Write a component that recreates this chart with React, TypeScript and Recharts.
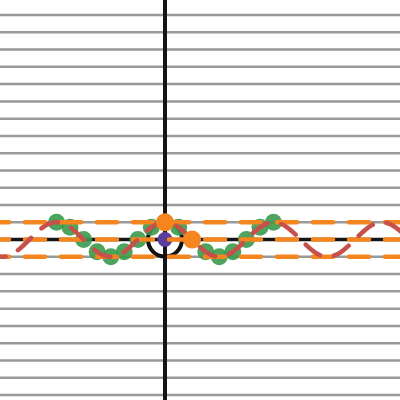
import React from 'react';
import { ComposedChart, XAxis, YAxis, Line, Scatter, ReferenceLine, ReferenceDot } from 'recharts';

// Domain (units): equal aspect, origin near (165, 239.5)
const xDomain = [-9.554, 13.607];
const yDomain = [-9.29, 13.87];

// Horizontal grid values
const gridValues = [-9, -8, -7, -6, -5, -4, -3, -2, -1, 1, 2, 3, 4, 5, 6, 7, 8, 9, 10, 11, 12, 13];

// Orange dashed horizontal guides
const guideValues = [1, 0, -1];

// Red dashed curve samples
const curveX = [-10.21, -9.42, -8.64, -7.85, -7.07, -6.28, -5.5, -4.71, -3.93, -3.14, -2.36, -1.57, -0.79, 0, 0.79, 1.57, 2.36, 3.14, 3.93, 4.71, 5.5, 6.28, 7.07, 7.85, 8.64, 9.42, 10.21, 11.0, 11.78, 12.57, 13.35, 14.14];
const curveY = [-0.71, -1, -0.71, 0, 0.71, 1, 0.71, 0, -0.71, -1, -0.71, 0, 0.71, 1, 0.71, 0, -0.71, -1, -0.71, 0, 0.71, 1, 0.71, 0, -0.71, -1, -0.71, 0, 0.71, 1, 0.71, 0];

// Green sample points
const greenX = [-6.28, -5.5, -4.71, -3.93, -3.14, -2.36, -1.57, -0.79, 0, 0.79, 1.57, 2.36, 3.14, 3.93, 4.71, 5.5, 6.28];
const greenY = [1, 0.71, 0, -0.71, -1, -0.71, 0, 0.71, 1, 0.71, 0, -0.71, -1, -0.71, 0, 0.71, 1];

// Highlighted points
const orangeX = [0, 1.57];
const orangeY = [1, 0];
const purpleX = [0];
const purpleY = [0];

const curveData = curveX.map((x, i) => ({ x, y: curveY[i] }));
const greenData = greenX.map((x, i) => ({ x, y: greenY[i] }));
const orangeData = orangeX.map((x, i) => ({ x, y: orangeY[i] }));
const purpleData = purpleX.map((x, i) => ({ x, y: purpleY[i] }));

const dot = (r: number, fill: string, opacity = 1) => (props: any) => (
  <circle cx={props.cx} cy={props.cy} r={r} fill={fill} fillOpacity={opacity} />
);

export default function App() {
  return (
    <div style={{ position: 'absolute', left: 0, top: 0, width: 400, height: 400, background: '#fff' }}>
      <ComposedChart width={400} height={400} margin={{ top: 0, right: 0, bottom: 0, left: 0 }}>
        <XAxis type="number" dataKey="x" domain={xDomain} allowDataOverflow hide />
        <YAxis type="number" dataKey="y" domain={yDomain} allowDataOverflow hide />
        {gridValues.map((v) => (
          <ReferenceLine key={'g' + v} y={v} stroke="#999999" strokeWidth={2.5} zIndex={10} />
        ))}
        <ReferenceLine y={0} stroke="#151515" strokeWidth={3.5} zIndex={20} />
        <ReferenceLine x={0} stroke="#151515" strokeWidth={4} zIndex={20} />
        <ReferenceDot x={0} y={0} r={17} fill="none" stroke="#111111" strokeWidth={4} zIndex={30} />
        <Scatter data={greenData} dataKey="y" isAnimationActive={false} shape={dot(8.5, '#3a9a4c', 0.9)} zIndex={40} />
        <Scatter data={purpleData} dataKey="y" isAnimationActive={false} shape={dot(7.5, '#5b3d9a')} zIndex={50} />
        {guideValues.map((v) => (
          <ReferenceLine
            key={'o' + v}
            y={v}
            stroke="#f5851f"
            strokeWidth={4.5}
            strokeDasharray="20 16"
            strokeDashoffset={11}
            strokeLinecap="round"
            zIndex={60}
          />
        ))}
        <Line
          data={curveData}
          dataKey="y"
          type="natural"
          stroke="#c8504b"
          strokeWidth={4.5}
          strokeDasharray="18 14"
          strokeLinecap="round"
          dot={false}
          activeDot={false}
          isAnimationActive={false}
          zIndex={70}
        />
        <Scatter data={orangeData} dataKey="y" isAnimationActive={false} shape={dot(9, '#f5851f')} zIndex={80} />
      </ComposedChart>
    </div>
  );
}
